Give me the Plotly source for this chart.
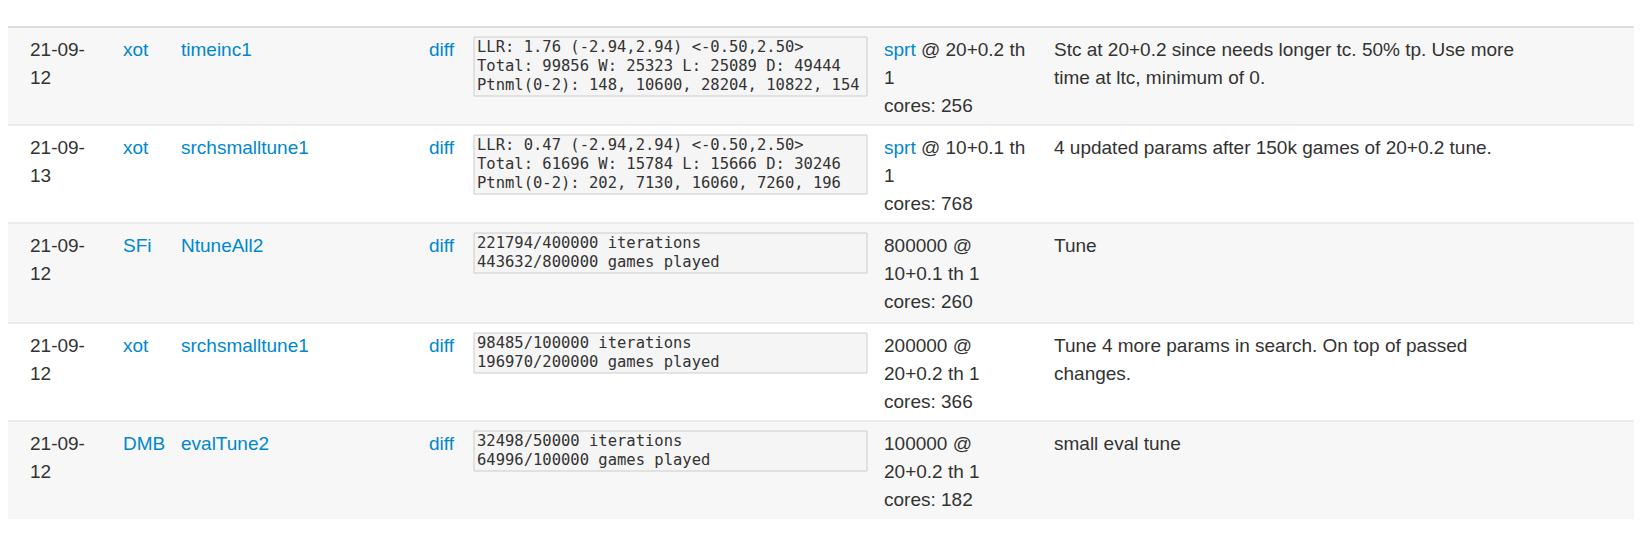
import plotly.graph_objects as go

dates = [["21-09-", "12"], ["21-09-", "13"], ["21-09-", "12"], ["21-09-", "12"], ["21-09-", "12"]]
users = ["xot", "xot", "SFi", "xot", "DMB"]
names = ["timeinc1", "srchsmalltune1", "NtuneAll2", "srchsmalltune1", "evalTune2"]
results = [
    ["LLR: 1.76 (-2.94,2.94) <-0.50,2.50>", "Total: 99856 W: 25323 L: 25089 D: 49444", "Ptnml(0-2): 148, 10600, 28204, 10822, 154"],
    ["LLR: 0.47 (-2.94,2.94) <-0.50,2.50>", "Total: 61696 W: 15784 L: 15666 D: 30246", "Ptnml(0-2): 202, 7130, 16060, 7260, 196"],
    ["221794/400000 iterations", "443632/800000 games played"],
    ["98485/100000 iterations", "196970/200000 games played"],
    ["32498/50000 iterations", "64996/100000 games played"],
]
tc_first = ["sprt|@ 20+0.2 th", "sprt|@ 10+0.1 th", "|800000 @", "|200000 @", "|100000 @"]
tc_rest = [["1", "cores: 256"], ["1", "cores: 768"], ["10+0.1 th 1", "cores: 260"],
           ["20+0.2 th 1", "cores: 366"], ["20+0.2 th 1", "cores: 182"]]
notes = [["Stc at 20+0.2 since needs longer tc. 50% tp. Use more", "time at ltc, minimum of 0."],
         ["4 updated params after 150k games of 20+0.2 tune."],
         ["Tune"],
         ["Tune 4 more params in search. On top of passed", "changes."],
         ["small eval tune"]]

row_tops = [19, 117, 215, 315, 413]
row_bottom = 511
LINK = "#0088cc"
TXT = "#333333"
SANS = "Liberation Sans"
MONO = "DejaVu Sans Mono"
LH = 28

fig = go.Figure()
shapes = []
ann = []

def text(x, y, s, color=TXT, font=SANS, size=19):
    ann.append(dict(x=x, y=y, text=s, showarrow=False, xanchor="left", yanchor="middle",
                    font=dict(family=font, size=size, color=color), xref="x", yref="y"))

for i, top in enumerate(row_tops):
    bottom = row_tops[i + 1] if i + 1 < len(row_tops) else row_bottom
    if i % 2 == 0:
        shapes.append(dict(type="rect", x0=0, x1=1642, y0=top, y1=bottom, fillcolor="#f7f7f7",
                           line=dict(width=0), layer="below"))
    shapes.append(dict(type="line", x0=0, x1=1642, y0=top, y1=top,
                       line=dict(color="#dddddd", width=2 if i == 0 else 1)))
    c = top + 22
    for k, d in enumerate(dates[i]):
        text(20, c + k * LH, d)
    text(113, c, users[i], LINK)
    text(171, c, names[i], LINK)
    text(419, c, "diff", LINK)
    n = len(results[i])
    shapes.append(dict(type="rect", x0=466, x1=859, y0=top + 10, y1=top + 12 + 19 * n,
                       fillcolor="#f5f5f5", line=dict(color="#cccccc", width=1)))
    for k, r in enumerate(results[i]):
        text(467, top + 20 + 19 * k, r, "#333333", MONO, 15.5)
    link, rest = tc_first[i].split("|")
    s = (f'<span style="color:{LINK}">{link}</span> ' if link else "") + rest
    text(874, c, s)
    for k, t in enumerate(tc_rest[i]):
        text(874, c + (k + 1) * LH, t)
    for k, t in enumerate(notes[i]):
        text(1044, c + k * LH, t)

fig.update_layout(width=1642, height=549, margin=dict(l=0, r=0, t=0, b=0),
                  plot_bgcolor="white", paper_bgcolor="white", shapes=shapes, annotations=ann,
                  xaxis=dict(range=[0, 1642], visible=False, fixedrange=True),
                  yaxis=dict(range=[549, 0], visible=False, fixedrange=True),
                  showlegend=False)
fig.write_html("out.html")
